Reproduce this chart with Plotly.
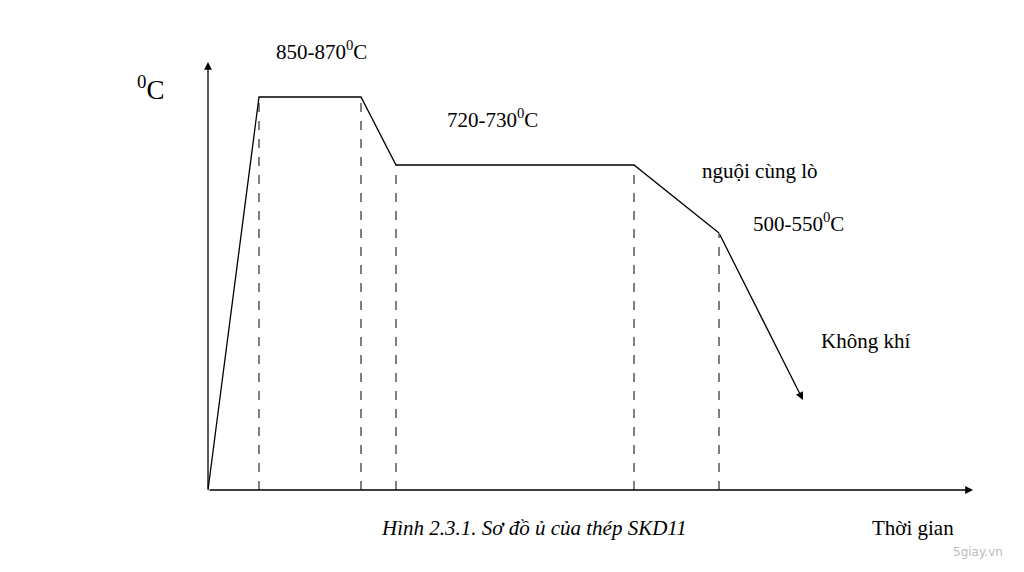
import plotly.graph_objects as go

# annealing schedule (time units, temperature units ~ arbitrary)
t_pts = [0, 51, 153, 188, 426, 511]
temp_pts = [0, 393, 393, 325, 325, 257]
t_end, temp_end = 595, 90   # air cooling arrow tip
dash_t = [51, 153, 188, 426, 511]
dash_temp = [393, 393, 325, 325, 257]

serif = "Liberation Serif"
fig = go.Figure()

fig.add_trace(go.Scatter(x=t_pts, y=temp_pts, mode="lines",
                         line=dict(color="black", width=1.3), hoverinfo="skip"))
for tx, ty in zip(dash_t, dash_temp):
    fig.add_trace(go.Scatter(x=[tx, tx], y=[0, ty], mode="lines",
                             line=dict(color="black", width=1, dash="dash"), hoverinfo="skip"))

# arrows: axes and air-cooling segment
arrows = [(765, 0, 0, 0), (0, 428, 0, 0), (t_end, temp_end, t_pts[-1], temp_pts[-1])]
for ax_, ay_, bx, by in arrows:
    fig.add_annotation(x=ax_, y=ay_, ax=bx, ay=by, xref="x", yref="y", axref="x", ayref="y",
                       showarrow=True, arrowhead=2, arrowsize=1.2, arrowwidth=1.3,
                       arrowcolor="black", text="")

labels = [
    (113, 440, "850-870<sup>0</sup>C", 21),
    (-58, 402, "<sup>0</sup>C", 27),
    (284, 372, "720-730<sup>0</sup>C", 21),
    (552, 319, "nguội cùng lò", 21),
    (590, 268, "500-550<sup>0</sup>C", 21),
    (657, 149, "Không khí", 21),
    (705, -38, "Thời gian", 21),
]
for x, y, s, sz in labels:
    fig.add_annotation(x=x, y=y, text=s, showarrow=False, xref="x", yref="y",
                       font=dict(family=serif, size=sz, color="black"))
fig.add_annotation(x=326, y=-38, text="<i>Hình 2.3.1. Sơ đồ ủ của thép SKD11</i>",
                   showarrow=False, font=dict(family=serif, size=21, color="black"))
fig.add_annotation(x=770, y=-62, text="5giay.vn", showarrow=False,
                   font=dict(family="DejaVu Sans", size=12, color="#bbbbbb"))

fig.update_layout(
    width=1024, height=572, margin=dict(l=0, r=0, t=0, b=0),
    paper_bgcolor="white", plot_bgcolor="white", showlegend=False,
    xaxis=dict(range=[-200, 824], visible=False, fixedrange=True),
    yaxis=dict(range=[-90, 482], visible=False, fixedrange=True),
)
fig.write_html("out.html")
